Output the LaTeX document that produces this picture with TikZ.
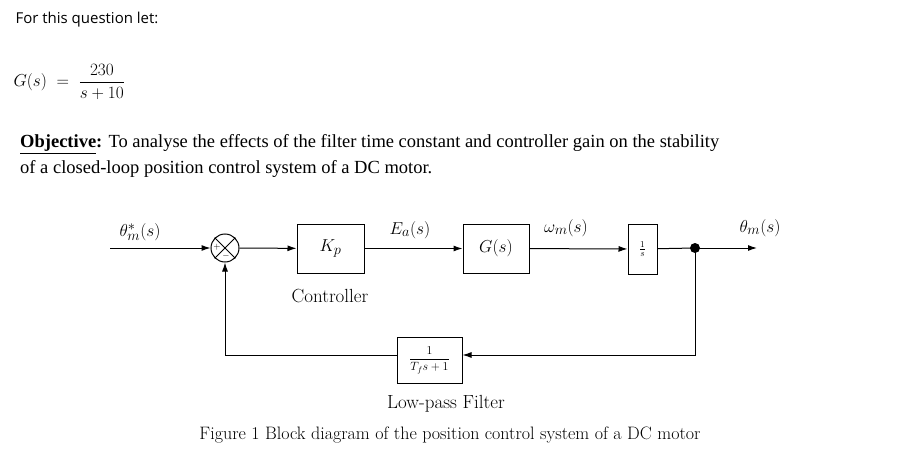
\documentclass[tikz,border=0pt]{standalone}
\usepackage{amsmath}
\usepackage{fontspec}
\newfontfamily\sansf{Open Sans}
\newfontfamily\timesf{Liberation Serif}
\usetikzlibrary{arrows.meta}
\begin{document}
\begin{tikzpicture}[x=1pt,y=-1pt,
  blk/.style={draw,line width=1pt,inner sep=0pt},
  sig/.style={line width=1pt,-{Latex[length=9pt,width=6pt]}},
  wire/.style={line width=1pt},
  lbl/.style={font=\fontsize{19}{20}\selectfont}]
\useasboundingbox (0,0) rectangle (898,460);
\node[anchor=west,font=\sansf\fontsize{15}{18}\selectfont] (t1) at (12,20) {For this question let:};
\node[anchor=west,font=\fontsize{17}{20}\selectfont] (gs) at (10,82) {$G(s)\;=\;\dfrac{230}{s+10}$};
\node[anchor=north west,align=left,inner sep=0pt,font=\timesf\fontsize{18.5}{26}\selectfont] (obj) at (20,134)
 {\textbf{\underline{Objective}:} To analyse the effects of the filter time constant and controller gain on the stability\\of a closed-loop position control system of a DC motor.};
% diagram
\coordinate (in) at (110,248);
\node[draw,circle,line width=1pt,minimum size=28pt,inner sep=0pt] (sum) at (225,248) {};
\draw[line width=1pt] (sum.north west)--(sum.south east) (sum.north east)--(sum.south west);
\node[font=\fontsize{9}{9}\selectfont] (plus) at (217,247) {$+$};
\node[font=\fontsize{9}{9}\selectfont] (minus) at (226,256) {$-$};
\node[blk,minimum width=67pt,minimum height=49pt,lbl] (kp) at (330.5,248.5) {$K_p$};
\node[blk,minimum width=66pt,minimum height=49pt,lbl] (g) at (496,248.5) {$G(s)$};
\node[blk,minimum width=29pt,minimum height=50pt,font=\fontsize{13}{13}\selectfont] (int) at (642.5,249) {$\frac{1}{s}$};
\fill (695,248) circle (5pt) coordinate (dot);
\coordinate (out) at (757,248);
\node[blk,minimum width=65pt,minimum height=46pt,font=\fontsize{12}{12}\selectfont] (flt) at (429.5,360) {$\dfrac{1}{T_f s+1}$};
\coordinate (c1) at (695,355);
\coordinate (c2) at (225,355);
\draw[sig] (in) -- (sum);
\draw[sig] (sum) -- (kp);
\draw[sig] (kp) -- (g);
\draw[sig] (g) -- (int);
\draw[wire] (int) -- (dot);
\draw[sig] (dot) -- (out);
\draw[sig] (dot) -- (c1) -- (flt.east|-c1);
\draw[sig] (flt.west|-c2) -- (c2) -- (sum);
\node[lbl] (l1) at (140,232) {$\theta_m^*(s)$};
\node[lbl] (l2) at (410,230) {$E_a(s)$};
\node[lbl] (l3) at (566,228) {$\omega_m(s)$};
\node[lbl] (l4) at (760,228) {$\theta_m(s)$};
\node[font=\fontsize{19}{20}\selectfont] (l5) at (330,296) {Controller};
\node[font=\fontsize{19}{20}\selectfont] (l6) at (446,404) {Low-pass Filter};
\node[font=\fontsize{18}{20}\selectfont] (l7) at (450,435) {Figure 1 Block diagram of the position control system of a DC motor};
\end{tikzpicture}
\end{document}
